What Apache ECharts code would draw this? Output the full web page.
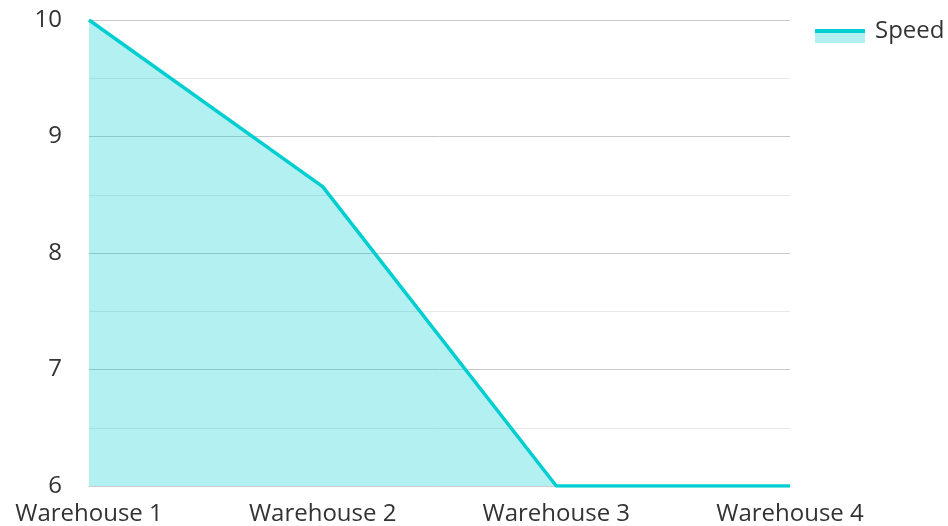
<!DOCTYPE html>
<html>
<head>
<meta charset="utf-8">
<script src="https://cdn.jsdelivr.net/npm/echarts@6/dist/echarts.min.js"></script>
<style>
  html, body { margin: 0; padding: 0; background: #fff; }
  #chart { width: 948px; height: 526px; }
</style>
</head>
<body>
<div id="chart"></div>
<script>
// Warehouse speed figures
const categories = ['Warehouse 1', 'Warehouse 2', 'Warehouse 3', 'Warehouse 4'];
const speedValues = [10, 8.57, 6, 6];
const seriesName = 'Speed';

const lineColor = '#00ced1';
const fillColor = 'rgba(0,206,209,0.3)';
const textColor = '#333';
const fontFamily = '"Open Sans", "Noto Sans", sans-serif';

const chart = echarts.init(document.getElementById('chart'), null, { renderer: 'canvas' });

// Legend swatch: an empty top edge keeps the box 24px tall so the
// filled band (line stripe + area block) sits in its lower part.
const legendIcon = 'path://M0,0L50,0ZM0,10L50,10L50,24L0,24Z';

chart.setOption({
  animation: false,
  textStyle: { fontFamily: fontFamily },
  grid: { left: 89, right: 158, top: 20, bottom: 39, containLabel: false },
  legend: {
    left: 810,
    top: 14,
    itemWidth: 50,
    itemHeight: 24,
    data: [{
      name: seriesName,
      icon: legendIcon,
      itemStyle: {
        borderWidth: 0,
        opacity: 1,
        color: new echarts.graphic.LinearGradient(0, 0, 0, 1, [
          { offset: 0, color: lineColor },
          { offset: 0.58, color: lineColor },
          { offset: 0.59, color: fillColor },
          { offset: 1, color: fillColor }
        ])
      }
    }],
    textStyle: {
      color: textColor,
      fontSize: 24,
      fontFamily: fontFamily,
      padding: [0, 0, 0, 5]
    }
  },
  xAxis: {
    type: 'category',
    data: categories,
    boundaryGap: false,
    axisLine: { show: true, lineStyle: { color: '#ccc', width: 1 } },
    axisTick: { show: false },
    axisLabel: { color: textColor, fontSize: 24, margin: 16, fontFamily: fontFamily },
    splitLine: { show: false }
  },
  yAxis: {
    type: 'value',
    min: 6,
    max: 10,
    interval: 1,
    axisLine: { show: false },
    axisTick: { show: false },
    axisLabel: { color: textColor, fontSize: 24, margin: 27, fontFamily: fontFamily },
    splitLine: { show: true, lineStyle: { color: '#c8c8c8', width: 1 } },
    minorTick: { show: false, splitNumber: 2 },
    minorSplitLine: { show: true, lineStyle: { color: '#e8e8e8', width: 1 } }
  },
  series: [{
    name: seriesName,
    type: 'line',
    data: speedValues,
    showSymbol: false,
    symbol: 'none',
    lineStyle: { color: lineColor, width: 3.5 },
    itemStyle: { color: lineColor },
    areaStyle: { color: fillColor, opacity: 1, origin: 'start' }
  }]
});
</script>
</body>
</html>
